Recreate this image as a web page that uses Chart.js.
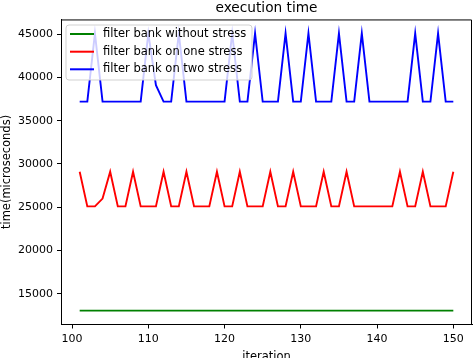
<!DOCTYPE html>
<html><head><meta charset="utf-8">
<script src="https://cdn.jsdelivr.net/npm/chart.js@4.4.1/dist/chart.umd.min.js"></script>
<style>html,body{margin:0;padding:0;background:#fff;}#wrap{width:474px;height:358px;}</style>
</head><body><div id="wrap"><canvas id="c" width="474" height="358"></canvas></div>
<script>
const iterations = [
  101,102,103,104,105,106,107,108,109,110,
  111,112,113,114,115,116,117,118,119,120,
  121,122,123,124,125,126,127,128,129,130,
  131,132,133,134,135,136,137,138,139,140,
  141,142,143,144,145,146,147,148,149,150
];
const withoutStress = [
  13050,13050,13050,13050,13050,13050,13050,13050,13050,13050,
  13050,13050,13050,13050,13050,13050,13050,13050,13050,13050,
  13050,13050,13050,13050,13050,13050,13050,13050,13050,13050,
  13050,13050,13050,13050,13050,13050,13050,13050,13050,13050,
  13050,13050,13050,13050,13050,13050,13050,13050,13050,13050
];
const oneStress = [
  29100,25100,25100,26000,29100,25100,25100,29100,25100,25100,
  25100,29100,25100,25100,29100,25100,25100,25100,29100,25100,
  25100,29100,25100,25100,25100,29100,25100,25100,29100,25100,
  25100,25100,29100,25100,25100,29100,25100,25100,25100,25100,
  25100,25100,29100,25100,25100,29100,25100,25100,25100,29100
];
const twoStress = [
  37200,37200,45100,37200,37200,37200,37200,37200,37200,45100,
  39100,37200,37200,45100,37200,37200,37200,37200,37200,37200,
  45100,37200,37200,45100,37200,37200,37200,45100,37200,37200,
  45100,37200,37200,37200,45100,37200,37200,45100,37200,37200,
  37200,37200,37200,37200,45100,37200,37200,45100,37200,37200
];
const seriesLabels = ['filter bank without stress','filter bank on one stress','filter bank on two stress'];
const xTickValues = [100,110,120,130,140,150];
const yTickValues = [15000,20000,25000,30000,35000,40000,45000];

const FONT = 'DejaVu Sans';
const pts = arr => iterations.map((x,i)=>({x:x,y:arr[i]}));

const framePlugin = {
  id:'frame',
  afterDatasetsDraw(chart){
    const {ctx, chartArea:a} = chart;
    ctx.save();
    ctx.strokeStyle = '#000'; ctx.lineWidth = 1;
    ctx.beginPath();
    ctx.moveTo(a.left, a.top+0.5); ctx.lineTo(a.right-0.5, a.top+0.5); ctx.lineTo(a.right-0.5, a.bottom);
    ctx.stroke();
    ctx.restore();
  }
};
const legendPlugin = {
  id:'innerLegend',
  afterDatasetsDraw(chart){
    const ctx = chart.ctx;
    const x=66, y=25, w=186, h=55, r=3;
    ctx.save();
    ctx.beginPath();
    ctx.moveTo(x+r,y); ctx.lineTo(x+w-r,y); ctx.quadraticCurveTo(x+w,y,x+w,y+r);
    ctx.lineTo(x+w,y+h-r); ctx.quadraticCurveTo(x+w,y+h,x+w-r,y+h);
    ctx.lineTo(x+r,y+h); ctx.quadraticCurveTo(x,y+h,x,y+h-r);
    ctx.lineTo(x,y+r); ctx.quadraticCurveTo(x,y,x+r,y); ctx.closePath();
    ctx.fillStyle='rgba(255,255,255,0.8)'; ctx.fill();
    ctx.strokeStyle='rgba(204,204,204,0.9)'; ctx.lineWidth=1; ctx.stroke();
    const rows=[34,51.7,69.3];
    chart.data.datasets.forEach((ds,i)=>{
      ctx.strokeStyle=ds.borderColor; ctx.lineWidth=2;
      ctx.beginPath(); ctx.moveTo(70,rows[i]); ctx.lineTo(94,rows[i]); ctx.stroke();
      ctx.fillStyle='#000'; ctx.font='11.5px "'+FONT+'"'; ctx.textBaseline='middle'; ctx.textAlign='left';
      ctx.fillText(ds.label,103,rows[i]);
    });
    ctx.restore();
  }
};

new Chart(document.getElementById('c'),{
  type:'line',
  data:{datasets:[
    {label:seriesLabels[0],data:pts(withoutStress),borderColor:'#008000',borderWidth:1.9,pointRadius:0,tension:0,fill:false},
    {label:seriesLabels[1],data:pts(oneStress),borderColor:'#ff0000',borderWidth:1.9,pointRadius:0,tension:0,fill:false},
    {label:seriesLabels[2],data:pts(twoStress),borderColor:'#0000ff',borderWidth:1.9,pointRadius:0,tension:0,fill:false}
  ]},
  options:{
    responsive:false, animation:false, devicePixelRatio:1,
    layout:{padding:{left:0,right:2,top:0,bottom:0}},
    plugins:{
      legend:{display:false}, tooltip:{enabled:false},
      title:{display:true,text:'execution time',fullSize:false,color:'#000',font:{family:FONT,size:13.7,weight:'normal'},padding:{top:0,bottom:3}}
    },
    scales:{
      x:{type:'linear',min:98.55,max:152.45,
        afterBuildTicks:s=>{s.ticks=xTickValues.map(v=>({value:v}));},
        afterFit:s=>{s.height=33.5;},
        ticks:{color:'#000',font:{family:FONT,size:11},padding:4,maxRotation:0,autoSkip:false,callback:v=>String(v)},
        grid:{drawOnChartArea:false,drawTicks:true,tickLength:4,color:'#000'},
        border:{display:true,color:'#000',width:1},
        title:{display:true,text:'iteration',color:'#000',font:{family:FONT,size:11.5},padding:{top:0,bottom:-6}}
      },
      y:{type:'linear',min:11448,max:46702,
        afterBuildTicks:s=>{s.ticks=yTickValues.map(v=>({value:v}));},
        afterFit:s=>{s.width=61;},
        ticks:{color:'#000',font:{family:FONT,size:11},padding:4,autoSkip:false,callback:v=>String(v)},
        grid:{drawOnChartArea:false,drawTicks:true,tickLength:4,color:'#000'},
        border:{display:true,color:'#000',width:1},
        title:{display:true,text:'time(microseconds)',color:'#000',font:{family:FONT,size:11.5},padding:{top:0,bottom:0}}
      }
    }
  },
  plugins:[framePlugin,legendPlugin]
});
</script></body></html>
